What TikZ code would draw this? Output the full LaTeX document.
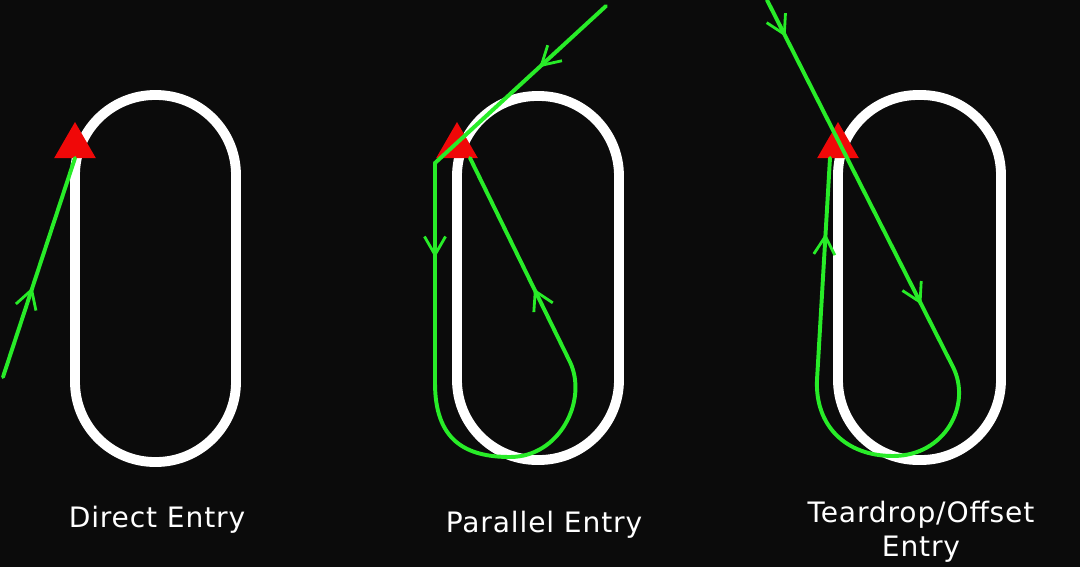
\documentclass[tikz,border=0pt]{standalone}
\usepackage{fontspec}
\setmainfont{DejaVu Sans}[LetterSpace=3]
\usetikzlibrary{arrows.meta,shapes.geometric,decorations.markings}
\definecolor{bg_black}{RGB}{11,11,11}
\definecolor{fix_red}{RGB}{240,8,8}
\definecolor{leg_green}{RGB}{40,236,40}

\begin{document}
\begin{tikzpicture}[x=0.025cm,y=-0.025cm,line cap=round,line join=round]
    \tikzstyle{track}=[draw=white, line width=7pt, rounded corners=2cm]
    \tikzstyle{fix}=[regular polygon, regular polygon sides=3, fill=fix_red, minimum size=1.2cm, inner sep=0pt, outer sep=0pt]
    \tikzstyle{leg}=[draw=leg_green, line width=2.8pt]
    \tikzstyle{entrytext}=[text=white, font=\fontsize{20}{23.5}\selectfont, align=center, anchor=base]
    \tikzset{flow/.style={postaction={decorate}, decoration={markings, #1}}}
    \newcommand{\chev}{\arrow[line width=2pt]{Straight Barb[length=13pt,width=15pt]}}

    \fill[bg_black] (0,0) rectangle (1080,567);
    \useasboundingbox (0,0) rectangle (1080,567);

    % holding patterns
    \draw[track] (75,95) rectangle (236,462);
    \draw[track] (457,96) rectangle (619,460);
    \draw[track] (838,95) rectangle (1001,460);

    \node[fix] (fix1) at (75,146) {};
    \node[fix] (fix2) at (457,146) {};
    \node[fix] (fix3) at (838,146) {};

    % direct
    \coordinate (d_in) at (3,377);
    \draw[leg, flow={mark=at position 0.41 with {\chev}}] (d_in) -- (fix1.south);

    % parallel
    \coordinate (p_in)   at (606,6);
    \coordinate (p_turn) at (435,163);
    \coordinate (p_down) at (435,383);
    \coordinate (p_low)  at (510,457);
    \coordinate (p_back) at (570,362);
    \coordinate (p_fix)  at (470,158);
    \draw[leg, flow={mark=at position 0.39 with {\chev}}] (p_in) -- (p_turn);
    \draw[leg, flow={mark=at position 0.43 with {\chev}}] (p_turn) -- (p_down);
    \draw[leg] (p_down) .. controls (435,440) and (465,457) .. (p_low)
        .. controls (560,457) and (588,400) .. (p_back);
    \draw[leg, flow={mark=at position 0.36 with {\chev}}] (p_back) -- (p_fix);

    % teardrop
    \coordinate (t_in)  at (767,0);
    \coordinate (t_out) at (953,367);
    \coordinate (t_low) at (893,456);
    \coordinate (t_up)  at (817,380);
    \coordinate (t_fix) at (830,158);
    \draw[leg, flow={mark=at position 0.10 with {\chev}, mark=at position 0.83 with {\chev}}] (t_in) -- (t_out);
    \draw[leg] (t_out) .. controls (972,405) and (945,456) .. (t_low)
        .. controls (845,456) and (815,425) .. (t_up);
    \draw[leg, flow={mark=at position 0.66 with {\chev}}] (t_up) -- (t_fix);

    \node[entrytext] (direct)   at (157,527) {Direct Entry};
    \node[entrytext] (parallel) at (544,532) {Parallel Entry};
    \node[entrytext] (teardrop) at (921,556) {Teardrop/Offset\\Entry};
  \end{tikzpicture}
\end{document}
